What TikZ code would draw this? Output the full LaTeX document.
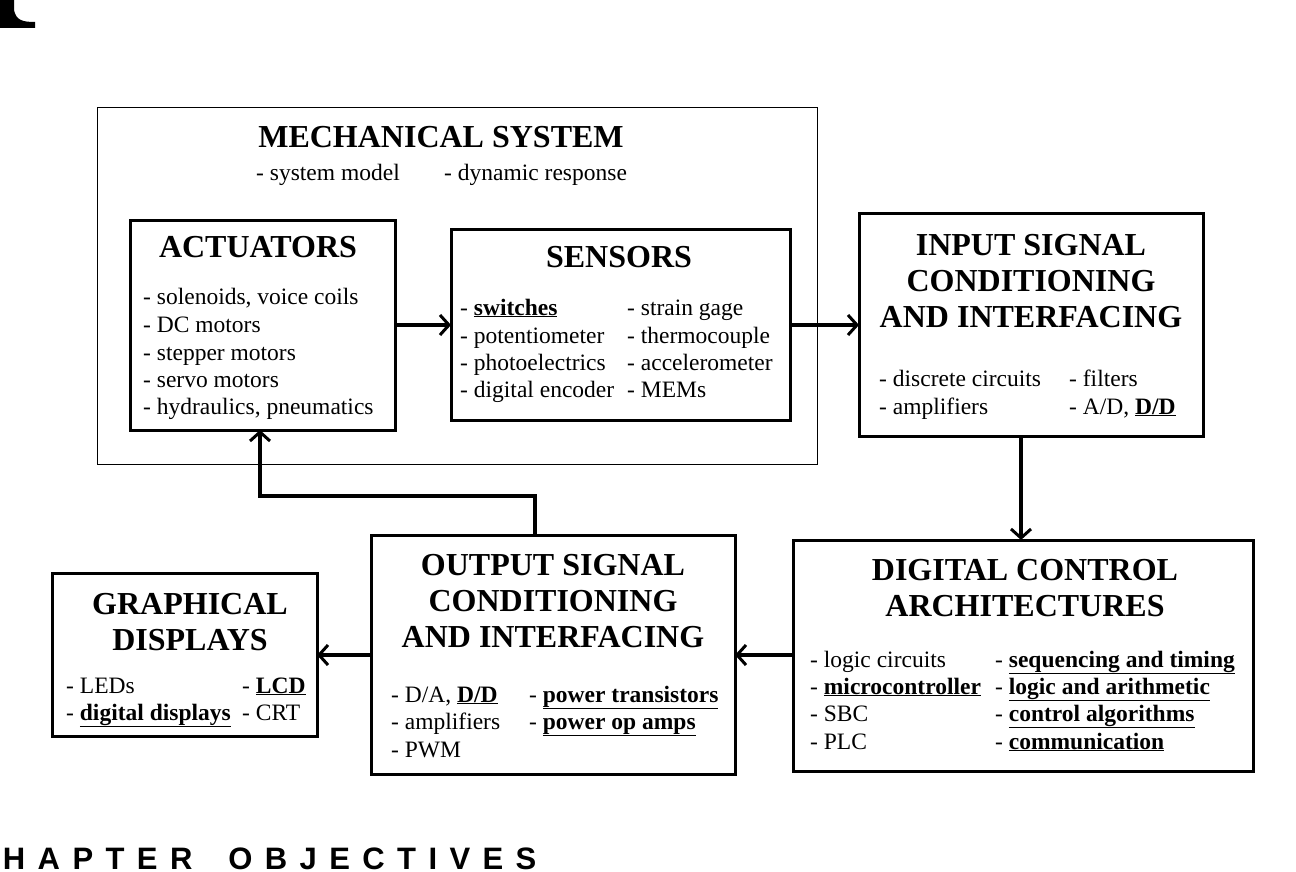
\documentclass[tikz,border=0pt]{standalone}
\usepackage{fontspec}
\setmainfont{Liberation Serif}
\newfontfamily\hsans[LetterSpace=40]{Liberation Sans}
\usetikzlibrary{arrows.meta}
\begin{document}
\begin{tikzpicture}[x=1pt,y=-1pt,
 box/.style={draw,line width=3pt},
 ttl/.style={font=\fontsize{32}{36}\selectfont\bfseries,align=center,inner sep=0},
 txt/.style={font=\fontsize{23.5}{27}\selectfont,anchor=base west,inner sep=0,yshift=-7pt},
 arr/.style={line width=3.5pt,-{Straight Barb[length=9pt,width=20pt,line width=3pt]}}]
\useasboundingbox (0,0) rectangle (1296,872);
\fill (0,0) -- (14,0) -- (14,10) .. controls (16,20) and (22,22) .. (35,22) -- (35,28) -- (0,28) -- cycle;
% mechanical
\draw[line width=0.8pt] (97,107) rectangle (817,464);
\node[ttl] (mt) at (441,137) {MECHANICAL SYSTEM};
\node[txt] (m1) at (256,173) {- system model};
\node[txt] (m2) at (444,173) {- dynamic response};
% actuators
\draw[box] (130,220) rectangle (395,430);
\coordinate (actB) at (260,430); \coordinate (actR) at (397,325);
\node[ttl] (at) at (258,247) {ACTUATORS};
\node[txt] (a1) at (143,297) {- solenoids, voice coils};
\node[txt] (a2) at (143,325) {- DC motors};
\node[txt] (a3) at (143,353) {- stepper motors};
\node[txt] (a4) at (143,380) {- servo motors};
\node[txt] (a5) at (143,407) {- hydraulics, pneumatics};
% sensors
\draw[box] (451,229) rectangle (790,420);
\coordinate (senL) at (451,325); \coordinate (senR) at (790,325);
\node[ttl] (st) at (619,257) {SENSORS};
\node[txt] (s1) at (460,308) {- \underline{\textbf{switches}}};
\node[txt] (s2) at (460,336) {- potentiometer};
\node[txt] (s3) at (460,363) {- photoelectrics};
\node[txt] (s4) at (460,390) {- digital encoder};
\node[txt] (s5) at (627,308) {- strain gage};
\node[txt] (s6) at (627,336) {- thermocouple};
\node[txt] (s7) at (627,363) {- accelerometer};
\node[txt] (s8) at (627,390) {- MEMs};
% input
\draw[box] (859,213) rectangle (1203,436);
\coordinate (inL) at (859,325); \coordinate (inB) at (1021,436);
\node[ttl] (it) at (1031,281) {INPUT SIGNAL\\CONDITIONING\\AND INTERFACING};
\node[txt] (i1) at (879,379) {- discrete circuits};
\node[txt] (i2) at (879,407) {- amplifiers};
\node[txt] (i3) at (1069,379) {- filters};
\node[txt] (i4) at (1069,407) {- A/D, \underline{\textbf{D/D}}};
% digital
\draw[box] (793,540) rectangle (1253,771);
\coordinate (dT) at (1021,540); \coordinate (dL) at (793,655);
\node[ttl] (dt) at (1025,588) {DIGITAL CONTROL\\ARCHITECTURES};
\node[txt] (d1) at (810,660) {- logic circuits};
\node[txt] (d2) at (810,687) {- \underline{\textbf{microcontroller}}};
\node[txt] (d3) at (810,714) {- SBC};
\node[txt] (d4) at (810,742) {- PLC};
\node[txt] (d5) at (995,660) {- \underline{\textbf{sequencing and timing}}};
\node[txt] (d6) at (995,687) {- \underline{\textbf{logic and arithmetic}}};
\node[txt] (d7) at (995,714) {- \underline{\textbf{control algorithms}}};
\node[txt] (d8) at (995,742) {- \underline{\textbf{communication}}};
% output
\draw[box] (371,535) rectangle (735,774);
\coordinate (oR) at (735,655); \coordinate (oL) at (371,655); \coordinate (oT) at (535,535);
\node[ttl] (ot) at (553,601) {OUTPUT SIGNAL\\CONDITIONING\\AND INTERFACING};
\node[txt] (o1) at (391,695) {- D/A, \underline{\textbf{D/D}}};
\node[txt] (o2) at (391,722) {- amplifiers};
\node[txt] (o3) at (391,750) {- PWM};
\node[txt] (o4) at (529,695) {- \underline{\textbf{power transistors}}};
\node[txt] (o5) at (529,722) {- \underline{\textbf{power op amps}}};
% graphical
\draw[box] (52,573) rectangle (317,736);
\coordinate (gR) at (317,655);
\node[ttl] (gt) at (190,622) {GRAPHICAL\\DISPLAYS};
\node[txt] (g1) at (66,686) {- LEDs};
\node[txt] (g2) at (66,713) {- \underline{\textbf{digital displays}}};
\node[txt] (g3) at (242,686) {- \underline{\textbf{LCD}}};
\node[txt] (g4) at (242,713) {- CRT};
% arrows
\draw[arr] (actR) -- (senL);
\draw[arr] (senR) -- (inL);
\draw[arr] (inB) -- (dT);
\draw[arr] (dL) -- (oR);
\draw[arr] (oL) -- (gR);
\draw[arr] (oT) -- (535,496) -- (260,496) -- (actB);
\node[font=\hsans\bfseries\fontsize{31}{32}\selectfont,anchor=base west,inner sep=0] (ch) at (-32,869) {CHAPTER\hspace{36pt}OBJECTIVES};
\end{tikzpicture}
\end{document}
